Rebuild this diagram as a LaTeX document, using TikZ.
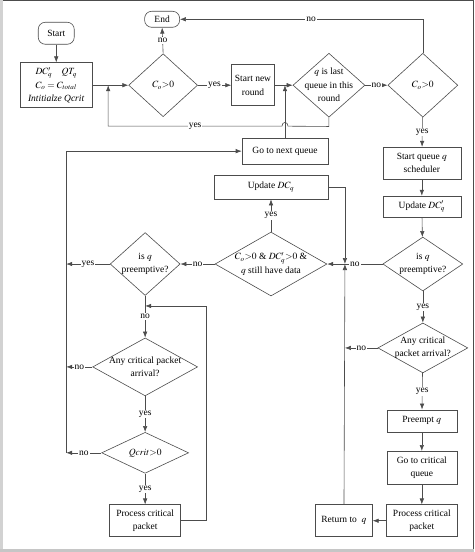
\documentclass[tikz,border=0pt]{standalone}
\usepackage{mathptmx}
\usepackage{fontspec}
\setmainfont{Liberation Serif}
\usetikzlibrary{arrows.meta,shapes}
\tikzset{
  box/.style 2 args={draw=black!70, minimum width=#1, minimum height=#2,
    align=center, inner sep=0pt},
  dia/.style 2 args={diamond, draw=black!70, minimum width=#1,
    minimum height=#2, inner sep=0pt},
  term/.style={draw=black!70, rounded corners=7pt, inner sep=0pt},
  lab/.style={fill=white, inner sep=1pt},
  every label/.style={align=center, inner sep=0pt},
}

\begin{document}
\begin{tikzpicture}[x=1pt, y=-1pt, font=\fontsize{9.5}{13.5}\selectfont,
  >={Latex[length=6pt,width=4.5pt]}, every path/.style={draw=black!70}, line width=0.6pt]
\useasboundingbox (0,0) rectangle (474,552);
\fill[gray!35, draw=none] (0,0) rectangle (2.5,552);
\fill[gray!45, draw=none] (0,549) rectangle (474,552);

% top row
\node[term, minimum width=36pt, minimum height=22pt] (start) at (56,33) {Start};
\node[box={72pt}{45pt}] (init) at (56,85) {$DC'_q$\quad$QT_q$\\$C_o=C_{total}$\\\textit{Intitialze Qcrit}};
\node[dia={69pt}{63pt}, label={center:$C_o{>}0$}] (c1) at (163,85) {};
\node[term, minimum width=35pt, minimum height=16pt] (end) at (162,19) {End};
\node[box={43pt}{41pt}] (newround) at (253,85) {Start new\\round};
\node[dia={72pt}{64pt}, label={center:{$q$ is last\\queue in this\\round}}] (last) at (329,85) {};
\node[dia={70pt}{64pt}, label={center:$C_o{>}0$}] (c2) at (423,85) {};

% middle
\node[box={86pt}{26pt}] (nextq) at (285,151) {Go to next queue};
\node[box={78pt}{32pt}] (startq) at (422,163) {Start queue $q$\\scheduler};
\node[box={114pt}{24pt}] (upd1) at (271,187) {Update $DC_q$};
\node[box={78pt}{21pt}] (upd2) at (422,206.5) {Update $DC'_q$};
\node[dia={80pt}{54pt}, label={center:{is $q$\\preemptive?}}] (pre1) at (423,264) {};
\node[dia={112pt}{64pt}, label={center:{$C_o{>}0$ \& $DC'_q{>}0$ \&\\$q$ still have data}}] (cond) at (271,264) {};
\node[dia={70pt}{63pt}, label={center:{is $q$\\preemptive?}}] (pre2) at (145,264) {};

% left column
\node[dia={105pt}{58pt}, label={center:{Any critical packet\\arrival?}}] (crit1) at (145,367) {};
\node[dia={87pt}{41pt}, label={center:$Qcrit{>}0$}] (qcrit) at (145,453) {};
\node[box={71pt}{32pt}] (proc1) at (145,521) {Process critical\\packet};

% right column
\node[dia={90pt}{50pt}, label={center:{Any critical\\packet arrival?}}] (crit2) at (423,348) {};
\node[box={70pt}{22pt}] (preempt) at (422,421) {Preempt $q$};
\node[box={70pt}{33pt}] (gocrit) at (422,468) {Go to critical\\queue};
\node[box={71pt}{32pt}] (proc2) at (422,521) {Process critical\\packet};
\node[box={57pt}{32pt}] (ret) at (344,521) {Return to\ \ $q$};

\coordinate (j1) at (108,85);
\coordinate (j2) at (285,85);
\coordinate (jl) at (66,151);
\coordinate (jr) at (345,264);
\coordinate (jp) at (145,306);

% connectors
\draw[->] (start) -- (init);
\draw[->] (init) -- (c1);
\draw[->] (c1) -- node[lab]{yes} (newround);
\draw[->] (c1.north) -- node[lab]{no} (end.south);
\draw[->] (newround) -- (last);
\draw[->] (last) -- node[lab]{no} (c2);
\draw[->] (c2.north) |- node[lab, pos=0.73]{no} (end.east);
\draw[->] (c2) -- node[lab]{yes} (startq);
\draw[->] (last.south) -- ++(0,9) -- (288,126) .. controls (288,121) and (282,121) .. (282,126)
  -- node[lab]{yes} (108,126) -- (j1);
\draw[->] (nextq) -- (j2);
\draw[->] (startq) -- (upd2);
\draw[->] (upd2) -- (pre1);
\draw[->] (pre1) -- node[lab]{no} (cond);
\draw[->] (upd1.east) -| (jr);
\draw[->] (ret) -- (jr);
\draw[->] (cond) -- node[lab]{yes} (upd1);
\draw[->] (cond) -- node[lab]{no} (pre2);
\draw[->] (pre2) -- node[lab]{yes} (pre2.west -| jl);
\draw[->] (pre2) -- node[lab]{no} (crit1);
\draw[->] (crit1) -- node[lab]{no} (crit1.west -| jl);
\draw[->] (crit1) -- node[lab]{yes} (qcrit);
\draw[->] (qcrit) -- node[lab]{no} (qcrit.west -| jl);
\draw[->] (qcrit.west -| jl) |- (nextq);
\draw[->] (qcrit) -- node[lab]{yes} (proc1);
\draw[->] (proc1.east) -- ++(25,0) |- (jp);
\draw[->] (pre1) -- node[lab]{yes} (crit2);
\draw[->] (crit2) -- node[lab]{no} (crit2.west -| jr);
\draw[->] (crit2) -- node[lab]{yes} (preempt);
\draw[->] (preempt) -- (gocrit);
\draw[->] (gocrit) -- (proc2);
\draw[->] (proc2) -- (ret);
\end{tikzpicture}
\end{document}
